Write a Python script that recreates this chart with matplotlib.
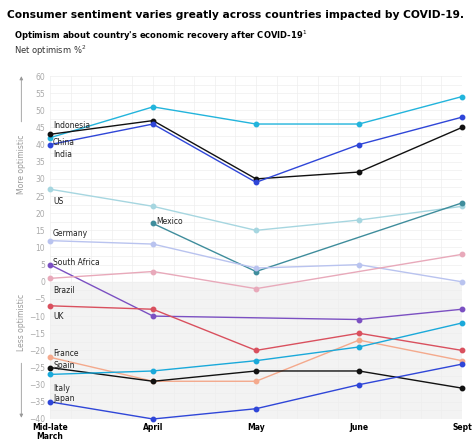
import matplotlib
matplotlib.use("Agg")
import matplotlib.pyplot as plt
import numpy as np

months = ["Mid-late\nMarch", "April", "May", "June", "Sept"]
N = None
series = {
    "Indonesia": [42, 51, 46, 46, 54],
    "China": [43, 47, 30, 32, 45],
    "India": [40, 46, 29, 40, 48],
    "US": [27, 22, 15, 18, 22],
    "Mexico": [N, 17, 3, N, 23],
    "Germany": [12, 11, 4, 5, 0],
    "South Africa": [5, -10, N, -11, -8],
    "Brazil": [1, 3, -2, N, 8],
    "UK": [-7, -8, -20, -15, -20],
    "France": [-22, -29, -29, -17, -23],
    "Spain": [-25, -29, -26, -26, -31],
    "Italy": [-27, -26, -23, -19, -12],
    "Japan": [-35, -40, -37, -30, -24],
}
colors = {
    "Indonesia": "#22b4dc", "China": "#111111", "India": "#2f46d8", "US": "#a6d6e0",
    "Mexico": "#3f8d9c", "Germany": "#b9c3ef", "South Africa": "#7b50c2", "Brazil": "#e8a9ba",
    "UK": "#d9505e", "France": "#f4a98c", "Spain": "#111111", "Italy": "#1aa9da", "Japan": "#2f46d8",
}
labels = {
    "Indonesia": (0, 3.5), "China": (0, -2.5), "India": (0, -3), "US": (0, -3.5),
    "Mexico": (1, 0.5), "Germany": (0, 2), "South Africa": (0, 0.5), "Brazil": (0, -3.5),
    "UK": (0, -3), "France": (0, 1), "Spain": (0, 0.5), "Italy": (0, -4), "Japan": (0, 1),
}

fig = plt.figure(figsize=(4.74, 4.45), dpi=100)
ax = fig.add_axes([50/474, 26/445, 412/474, 343/445])
x = np.arange(len(months))
ax.axhspan(-40, 0, color="#f3f3f3", zorder=0)
for name, vals in series.items():
    xs = [xi for xi, v in zip(x, vals) if v is not None]
    ys = [v for v in vals if v is not None]
    ax.plot(xs, ys, color=colors[name], lw=1, marker="o", ms=3.2, zorder=3, clip_on=False)
    xi, dy = labels[name]
    ax.text(xi + 0.03, vals[xi] + dy, name, fontsize=5.5, color="#222222", va="center", zorder=4)

ax.set_xlim(0, 4)
ax.set_ylim(-40, 60)
ax.set_yticks(range(-40, 61, 5))
ax.set_yticks(np.arange(-40, 61, 2.5), minor=True)
ax.set_xticks(x)
ax.set_xticks(np.arange(0, 4.01, 0.2), minor=True)
ax.set_xticklabels(months, fontsize=5.5, fontweight="bold", linespacing=0.95)
ax.tick_params(axis="y", labelsize=5.5, labelcolor="#aaaaaa", length=0, which="both")
ax.tick_params(axis="x", length=0, which="both", pad=3)
ax.grid(True, which="both", color="#eeeeee", lw=0.5)
for s in ax.spines.values():
    s.set_visible(False)

fig.text(0.015, 0.978, "Consumer sentiment varies greatly across countries impacted by COVID-19.",
         fontsize=7.7, fontweight="bold", va="top")
fig.text(0.03, 0.935, "Optimism about country's economic recovery after COVID-19$^1$", fontsize=6,
         fontweight="bold", va="top")
fig.text(0.03, 0.903, "Net optimism %$^2$", fontsize=6, va="top", color="#333333")

fig.text(0.045, 0.63, "More optimistic", rotation=90, fontsize=5.5, color="#999999", ha="center", va="center")
fig.text(0.045, 0.275, "Less optimistic", rotation=90, fontsize=5.5, color="#999999", ha="center", va="center")
fig.add_artist(matplotlib.patches.FancyArrowPatch((0.045, 0.72), (0.045, 0.835), transform=fig.transFigure,
               arrowstyle="-|>", mutation_scale=5, color="#999999", lw=0.6))
fig.add_artist(matplotlib.patches.FancyArrowPatch((0.045, 0.19), (0.045, 0.055), transform=fig.transFigure,
               arrowstyle="-|>", mutation_scale=5, color="#999999", lw=0.6))
fig.savefig("out.png", dpi=100)
